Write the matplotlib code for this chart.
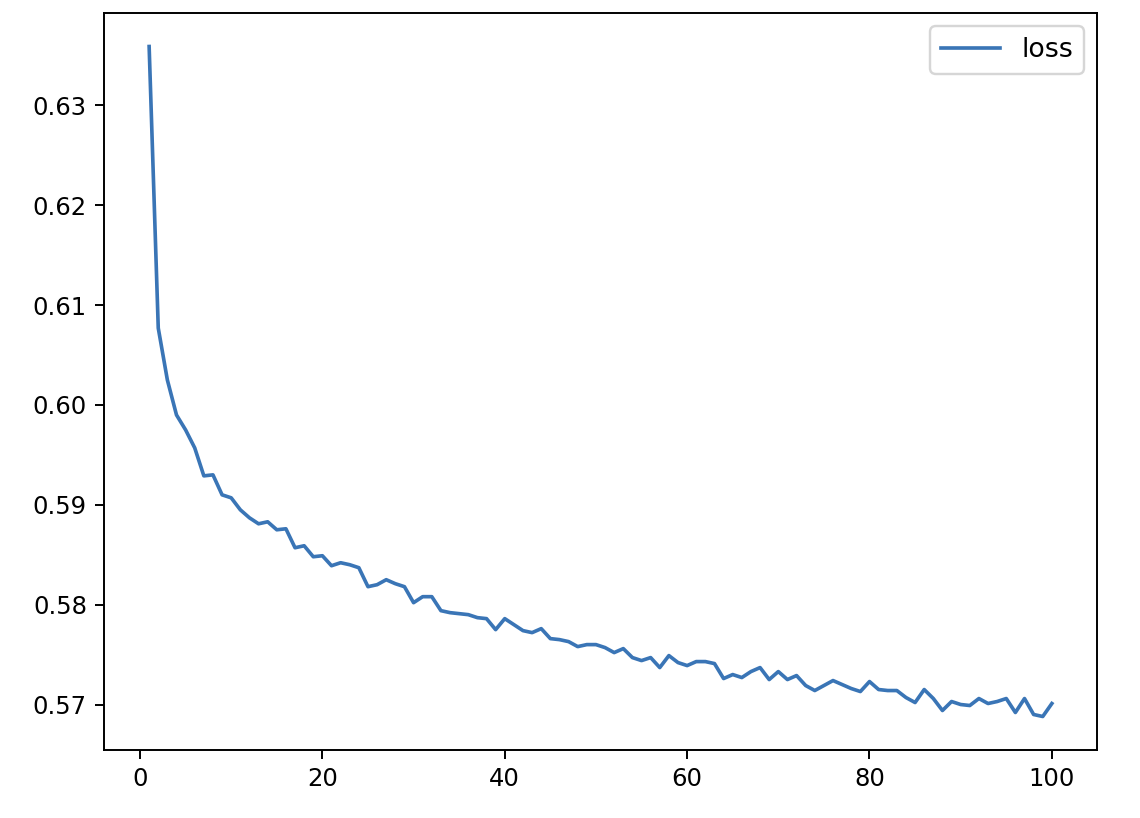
import matplotlib
matplotlib.use("Agg")
import matplotlib.pyplot as plt

epochs = list(range(1, 101))
loss = [
    0.6359, 0.6077, 0.6025, 0.5990, 0.5975, 0.5957, 0.5929, 0.5930, 0.5910, 0.5907,
    0.5895, 0.5887, 0.5881, 0.5883, 0.5875, 0.5876, 0.5857, 0.5859, 0.5848, 0.5849,
    0.5839, 0.5842, 0.5840, 0.5837, 0.5818, 0.5820, 0.5825, 0.5821, 0.5818, 0.5802,
    0.5808, 0.5808, 0.5794, 0.5792, 0.5791, 0.5790, 0.5787, 0.5786, 0.5775, 0.5786,
    0.5780, 0.5774, 0.5772, 0.5776, 0.5766, 0.5765, 0.5763, 0.5758, 0.5760, 0.5760,
    0.5757, 0.5752, 0.5756, 0.5747, 0.5744, 0.5747, 0.5737, 0.5749, 0.5742, 0.5739,
    0.5743, 0.5743, 0.5741, 0.5726, 0.5730, 0.5727, 0.5733, 0.5737, 0.5725, 0.5733,
    0.5725, 0.5729, 0.5719, 0.5714, 0.5719, 0.5724, 0.5720, 0.5716, 0.5713, 0.5723,
    0.5715, 0.5714, 0.5714, 0.5707, 0.5702, 0.5715, 0.5706, 0.5694, 0.5703, 0.5700,
    0.5699, 0.5706, 0.5701, 0.5703, 0.5706, 0.5692, 0.5706, 0.5690, 0.5688, 0.5701,
]

dpi = 175
fig = plt.figure(figsize=(1140 / dpi, 818 / dpi), dpi=dpi)
ax = fig.add_axes([104 / 1140, (818 - 750) / 818, (1097 - 104) / 1140, (750 - 13) / 818])
ax.plot(epochs, loss, label="loss", color="#3a75b6")
ax.legend(loc="upper right", fontsize=11, handlelength=2.2, borderaxespad=0.5)
fig.savefig("out.png", dpi=dpi)
